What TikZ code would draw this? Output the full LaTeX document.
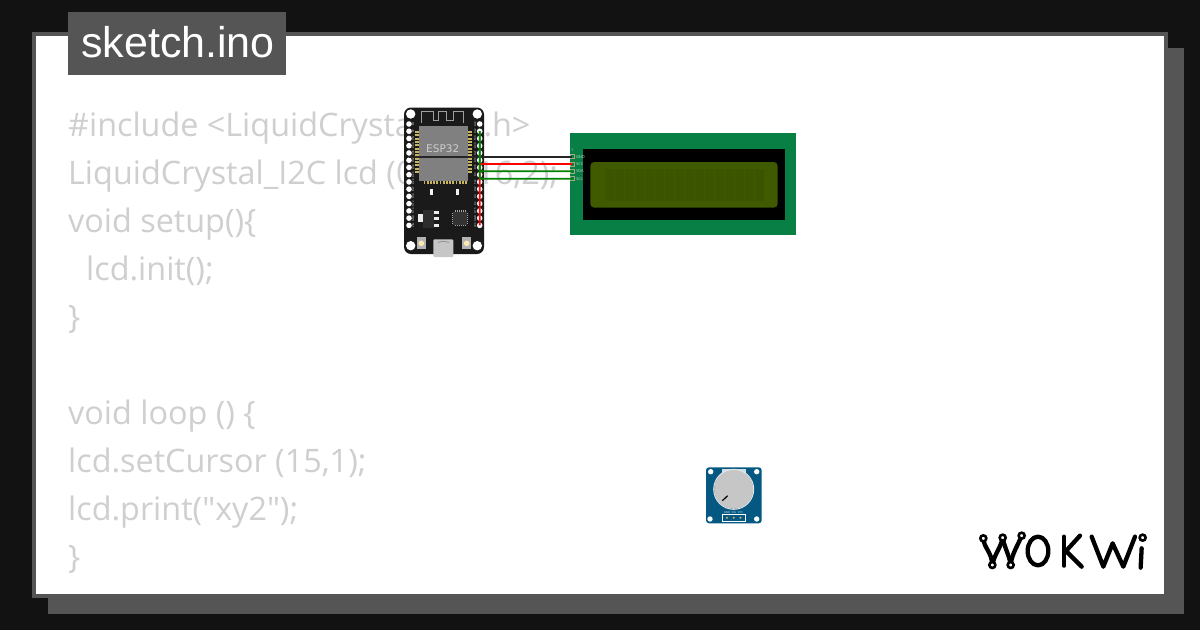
\documentclass[tikz,border=0pt]{standalone}
\usepackage{fontspec}
\usetikzlibrary{calc}
\setmainfont{Open Sans}
\newfontfamily\codefont{Open Sans}
\newfontfamily\titlefont{Liberation Sans}
\newfontfamily\chipfont{DejaVu Sans}
\definecolor{bgdark}{HTML}{121212}
\definecolor{framegray}{HTML}{555555}
\definecolor{codegray}{HTML}{CFCFCF}
\definecolor{lcdgreen}{HTML}{087F45}
\definecolor{lcdscreen}{HTML}{405A00}
\definecolor{lcdcell}{HTML}{3B5400}
\definecolor{potblue}{HTML}{045881}
\definecolor{goldpad}{HTML}{C8B560}
\definecolor{lcdpad}{HTML}{A5A87A}
\definecolor{wiregreen}{HTML}{008000}
\definecolor{pcb}{HTML}{1A1A1A}
\definecolor{btnlight}{HTML}{FBE9B4}
\tikzset{
  codeline/.style={anchor=base west,inner sep=0pt,text=codegray,font=\codefont\fontsize{32.35}{32}\selectfont},
  wirebase/.style={line width=1.8pt,rounded corners=1.5pt},
  tinylabel/.style={inner sep=0pt,rotate=90,font=\fontsize{2.6}{2.6}\selectfont,text=#1},
  logostroke/.style={draw=black,line width=4.3pt,line cap=round,line join=round},
  logodot/.style={draw=black,fill=white,line width=2.6pt},
}
\begin{document}
\begin{tikzpicture}[x=1pt,y=-1pt]
\useasboundingbox (0,0) rectangle (1200,630);
\fill[bgdark] (0,0) rectangle (1200,630);
\fill[framegray] (48,48) rectangle (1184,614);
\fill[framegray] (32,32) rectangle (1168,598);
\fill[white] (36,36) rectangle (1164,594);
% title
\fill[framegray] (68,12) rectangle (286,75);
\node[anchor=base west,inner sep=0pt,text=white,font=\titlefont\fontsize{43}{44}\selectfont] (title) at (81,57.3) {sketch.ino};
% code
\node[codeline] (c1) at (68,136) {\#include <LiquidCrystal\_I2C.h>};
\node[codeline] (c2) at (68,184) {LiquidCrystal\_I2C lcd (0x27,16,2);};
\node[codeline] (c3) at (68,232) {void setup()\{};
\node[codeline] (c4) at (86,280) {lcd.init();};
\node[codeline] (c5) at (68,328) {\}};
\node[codeline] (c6) at (68,424) {void loop () \{};
\node[codeline] (c7) at (68,472) {lcd.setCursor (15,1);};
\node[codeline] (c8) at (68,520) {lcd.print("xy2");};
\node[codeline] (c9) at (68,568) {\}};
% ESP32 board
\fill[pcb,rounded corners=7pt] (404,107.5) rectangle (484,254);
\draw[gray!75,line width=0.9pt] (421.7,123) -- (421.7,111) -- (433.3,111) -- (433.3,120.5) -- (438.3,120.5) -- (438.3,111) -- (446.7,111) -- (446.7,120.5) -- (453.3,120.5) -- (453.3,111) -- (463.3,111) -- (463.3,123);
\foreach \k in {0,...,12}{
  \fill[goldpad] (414.6,{131+\k*3.33}) rectangle (419,{132.9+\k*3.33});
  \fill[goldpad] (467.7,{131+\k*3.33}) rectangle (472,{132.9+\k*3.33});
}
\foreach \k in {0,...,13}{
  \fill[goldpad] ({423.5+\k*3.2},180.7) rectangle ({425.3+\k*3.2},184.3);
}
\fill[gray] (419,126) rectangle (467.7,180.7);
\node[inner sep=0pt,text=codegray,font=\chipfont\fontsize{10.5}{11}\selectfont] (esplabel) at (442.7,148.3) {ESP32};
% pins
\foreach \k in {0,...,14}{
  \coordinate (L\k) at (409,{124+\k*7.24});
  \coordinate (R\k) at (479.7,{124+\k*7.24});
  \fill[white] (L\k) circle (2.8);
  \fill[white] (R\k) circle (2.8);
}
\foreach \k/\t in {0/EN,1/VP,2/VN,3/D34,4/D35,5/D32,6/D33,7/D25,8/D26,9/D27,10/D14,11/D12,12/D13,13/GND,14/VIN}{
  \node[tinylabel=white!85!gray] (pl\k) at (413.3,{124+\k*7.24}) {\t};
}
\foreach \k/\t in {0/D23,1/D22,2/TX0,3/RX0,4/D21,5/D19,6/D18,7/D5,8/TX2,9/RX2,10/D4,11/D2,12/D15,13/GND,14/3V3}{
  \node[tinylabel=white!85!gray] (pr\k) at (475.3,{124+\k*7.24}) {\t};
}
% small parts
\fill[white!90!gray] (430,189) rectangle (433.3,195);
\fill[white!90!gray] (456,189) rectangle (459.3,195);
\fill[white!85!gray] (418.3,214.3) rectangle (423.3,222.3);
\foreach \y in {211,217.3,223.5}{\fill[white!85!gray] (434,\y) rectangle (439,{\y+3});}
\fill[gray!35!black] (423.3,210) rectangle (434.3,228.3);
\fill[black!80] (453.3,211.7) rectangle (466.7,225);
\foreach \k in {0,...,5}{
  \fill[gray!70] ({454.8+\k*2},210.3) rectangle ({455.6+\k*2},211.7);
  \fill[gray!70] ({454.8+\k*2},225) rectangle ({455.6+\k*2},226.4);
  \fill[gray!70] (451.9,{213.2+\k*2}) rectangle (453.3,{214+\k*2});
  \fill[gray!70] (466.7,{213.2+\k*2}) rectangle (468.1,{214+\k*2});
}
\fill[gray!45,rounded corners=1pt] (433.3,239.3) rectangle (453.3,257);
\draw[gray!85,line width=0.8pt] (438,242.5) to[bend left=20] (449,242.5);
\foreach \x in {416.7,462}{
  \fill[gray!60] (\x,236.7) rectangle ({\x+9.3},249.3);
  \fill[btnlight] ({\x+4.65},243.3) circle (2.8);
}
\foreach \x/\y in {410.7/114,477.3/114,410.7/245.7,477.3/245.7}{\fill[white] (\x,\y) circle (4.7);}
% LCD
\fill[lcdgreen] (569.5,133) rectangle (795.7,235);
\fill[black] (583,149) rectangle (785,220.3);
\fill[lcdscreen,rounded corners=4pt] (590.3,162) rectangle (777.7,207.7);
\foreach \k in {0,...,15}{
  \fill[lcdcell] ({605+\k*10},169) rectangle ({613.5+\k*10},201);
}
\node[inner sep=0pt,text=white!80!lcdgreen,font=\fontsize{3.6}{4}\selectfont] (one) at (572.3,150.3) {1};
\foreach \k/\t/\y in {gnd/GND/156.7,vcc/VCC/164,sda/SDA/171.3,scl/SCL/178.7}{
  \coordinate (\k) at (572.3,\y);
  \node[inner sep=0pt,anchor=west,text=white!75!lcdgreen,font=\fontsize{4}{4}\selectfont] (lab\k) at (575.8,\y) {\t};
  \draw[lcdpad,line width=0.9pt] ($(\k)+(-2,-2)$) rectangle ($(\k)+(2,2)$);
}
% wires
\draw[wirebase,black!85] (L5 |- gnd) -- (gnd);
\draw[wirebase,red] (R14) -- (R14 |- vcc) -- (vcc);
\draw[wirebase,wiregreen] (R1) -- (R1 |- sda) -- (sda);
\draw[wirebase,wiregreen] (R1) -- (R1 |- scl) -- (scl);
% potentiometer
\fill[potblue,rounded corners=3pt] (706,467.3) rectangle (761.7,523.3);
\foreach \x/\y in {710.7/471.7,756.7/471.7,710/519,756.7/519}{\fill[white] (\x,\y) circle (2.7);}
\fill[white!80!potblue] (721.7,469.3) rectangle (746,478.3);
\fill[gray!45] (733.7,489.3) circle (19.5);
\draw[gray!20,line width=1pt] (733.7,489.3) circle (20);
\draw[black,line width=1.2pt] (722.3,500.7) -- (727.7,495.7);
\draw[white,line width=0.7pt] (722.5,514.5) rectangle (745,521);
\foreach \x in {727,733.7,740.5}{\fill[goldpad] (\x,517.7) circle (1.1);}
\foreach \x/\t in {727/GND,733.7/SIG,740.5/VCC}{
  \node[inner sep=0pt,text=white!85!potblue,font=\fontsize{2.8}{3}\selectfont] (pot\t) at (\x,512.5) {\t};
}
% logo
\begin{scope}[shift={(960,515)},x=0.3333pt,y=-0.3333pt]
\draw[logostroke] (70,70) .. controls (72,100) and (95,110) .. (97,150);
\draw[logostroke] (97,150) .. controls (104,115) and (122,100) .. (128,68);
\draw[logostroke] (128,68) .. controls (134,100) and (148,120) .. (152,150);
\draw[logostroke] (152,150) .. controls (156,115) and (172,95) .. (185,62);
\draw[logodot] (70,70) circle (9);
\draw[logodot] (128,68) circle (9);
\draw[logodot] (185,62) circle (9);
\draw[logodot] (97,150) circle (9);
\draw[logodot] (152,150) circle (9);
\draw[logostroke] (234,108) ellipse (31 and 43);
\draw[logostroke] (312,65) -- (312,152);
\draw[logostroke] (360,62) -- (318,108) -- (365,155);
\draw[logostroke] (395,65) -- (430,155) -- (458,85) -- (490,155) -- (525,65);
\draw[logostroke] (545,100) -- (542,158);
\draw[logodot] (548,68) circle (9);
\end{scope}
\end{tikzpicture}
\end{document}
